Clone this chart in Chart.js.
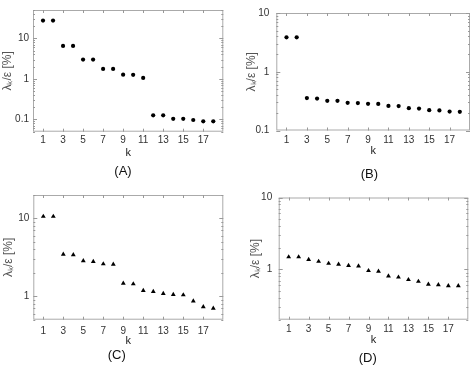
<!DOCTYPE html>
<html lang="en">
<head>
<meta charset="UTF-8">
<title>Eigenvalue spectra</title>
<script src="https://cdn.jsdelivr.net/npm/chart.js@4.4.0/dist/chart.umd.min.js"></script>
<style>
    * { margin: 0; padding: 0; box-sizing: border-box; }
    body { background: #fff; }
    .wrap { position: relative; width: 474px; height: 369px; }
    .panel { position: absolute; width: 237px; height: 185px; }
</style>
</head>
<body>
<div class="wrap">
    <div class="panel" style="left:0;top:0"><canvas id="chartA" width="237" height="185"></canvas></div>
    <div class="panel" style="left:237px;top:0"><canvas id="chartB" width="237" height="185"></canvas></div>
    <div class="panel" style="left:0;top:185px"><canvas id="chartC" width="237" height="185"></canvas></div>
    <div class="panel" style="left:237px;top:185px"><canvas id="chartD" width="237" height="185"></canvas></div>
</div>

<script>
const kValues = [1, 2, 3, 4, 5, 6, 7, 8, 9, 10, 11, 12, 13, 14, 15, 16, 17, 18];
const xTickLabels = [1, 3, 5, 7, 9, 11, 13, 15, 17];

const valuesA = [27.5, 27.5, 6.5, 6.5, 3.0, 3.0, 1.76, 1.76, 1.27, 1.26, 1.06, 0.127, 0.127, 0.104, 0.104, 0.097, 0.090, 0.090];
const valuesB = [3.86, 3.86, 0.356, 0.35, 0.32, 0.32, 0.296, 0.293, 0.285, 0.283, 0.262, 0.26, 0.24, 0.236, 0.222, 0.22, 0.21, 0.208];
const valuesC = [10.6, 10.6, 3.45, 3.4, 2.85, 2.79, 2.6, 2.58, 1.47, 1.44, 1.18, 1.15, 1.08, 1.05, 1.04, 0.87, 0.73, 0.70];
const valuesD = [1.49, 1.49, 1.37, 1.29, 1.21, 1.18, 1.13, 1.11, 0.96, 0.94, 0.81, 0.78, 0.72, 0.68, 0.62, 0.61, 0.59, 0.59];

const yTicksA = [0.1, 1, 10];
const yTicksB = [0.1, 1, 10];
const yTicksC = [1, 10];
const yTicksD = [1, 10];

const yRangeA = [0.05, 50];
const yRangeB = [0.1, 10];
const yRangeC = [0.5, 20];
const yRangeD = [0.2, 10];

const FONT = 'Liberation Sans, Arial, sans-serif';
const W = 237, H = 185;

// box + inward tick marks, like the original plots
const framePlugin = {
    id: 'frame',
    beforeDatasetsDraw(chart) {
        const { ctx, chartArea: a, scales } = chart;
        ctx.save();
        ctx.strokeStyle = '#aaa';
        ctx.lineWidth = 1;
        ctx.strokeRect(a.left + 0.5, a.top + 0.5, a.right - a.left - 1, a.bottom - a.top - 1);
        ctx.strokeStyle = '#999';
        ctx.beginPath();
        xTickLabels.forEach(v => {
            const px = Math.round(scales.x.getPixelForValue(v)) + 0.5;
            ctx.moveTo(px, a.bottom); ctx.lineTo(px, a.bottom - 3);
            ctx.moveTo(px, a.top); ctx.lineTo(px, a.top + 3);
        });
        const y = scales.y;
        for (let d = Math.floor(Math.log10(y.min)); d <= Math.ceil(Math.log10(y.max)); d++) {
            for (let m = 1; m <= 9; m++) {
                const v = m * Math.pow(10, d);
                if (v < y.min || v > y.max) continue;
                const py = Math.round(y.getPixelForValue(v)) + 0.5;
                const len = m === 1 ? 4 : 2;
                ctx.moveTo(a.left, py); ctx.lineTo(a.left + len, py);
                ctx.moveTo(a.right, py); ctx.lineTo(a.right - len, py);
            }
        }
        ctx.stroke();
        ctx.restore();
    },
    afterDraw(chart) {
        const o = chart.options.plugins.frame;
        const ctx = chart.ctx;
        ctx.save();
        ctx.fillStyle = '#111';
        ctx.font = '13px ' + FONT;
        ctx.textAlign = 'center';
        ctx.textBaseline = 'middle';
        ctx.fillText(o.label, o.labelX, o.labelY);
        ctx.restore();
    }
};

function buildPanel(id, values, yTicks, yRange, pointStyle, cfg) {
    const a = cfg.area;
    return new Chart(document.getElementById(id), {
        type: 'scatter',
        data: {
            datasets: [{
                data: kValues.map((k, i) => ({ x: k, y: values[i] })),
                pointStyle: pointStyle,
                pointRadius: pointStyle === 'triangle' ? 2.8 : 2.1,
                backgroundColor: '#000',
                borderColor: '#000',
                borderWidth: 0
            }]
        },
        options: {
            responsive: false,
            animation: false,
            devicePixelRatio: 1,
            layout: { padding: { left: 0, top: a.t, right: W - a.r, bottom: 0 } },
            plugins: {
                legend: { display: false },
                tooltip: { enabled: false },
                frame: { label: cfg.label, labelX: cfg.labelX, labelY: cfg.labelY }
            },
            scales: {
                x: {
                    type: 'linear',
                    min: 0,
                    max: 19,
                    afterBuildTicks: s => { s.ticks = xTickLabels.map(v => ({ value: v })); },
                    afterFit: s => { s.height = H - a.b; },
                    grid: { display: false, drawTicks: false },
                    border: { display: false },
                    ticks: { padding: cfg.xTickPad, color: '#333', font: { family: FONT, size: 10 } },
                    title: {
                        display: true, text: 'k', color: '#222',
                        font: { family: FONT, size: 11 },
                        padding: { top: 0, bottom: cfg.kPad }
                    }
                },
                y: {
                    type: 'logarithmic',
                    min: yRange[0],
                    max: yRange[1],
                    afterBuildTicks: s => { s.ticks = yTicks.map(v => ({ value: v })); },
                    afterFit: s => { s.width = a.l; },
                    grid: { display: false, drawTicks: false },
                    border: { display: false },
                    ticks: {
                        padding: cfg.yTickPad, color: '#333',
                        font: { family: FONT, size: 10 },
                        callback: v => String(v)
                    },
                    title: {
                        display: true, text: 'λₖ/ε [%]', color: '#555',
                        font: { family: FONT, size: 12 },
                        padding: { top: cfg.yTitlePad, bottom: 0 }
                    }
                }
            }
        },
        plugins: [framePlugin]
    });
}

buildPanel('chartA', valuesA, yTicksA, yRangeA, 'circle', {
    area: { l: 33, t: 4, r: 223.3, b: 131.7 },
    xTickPad: 3, kPad: 25.4, yTickPad: 4, yTitlePad: 0.3,
    label: '(A)', labelX: 123, labelY: 171.7
});
buildPanel('chartB', valuesB, yTicksB, yRangeB, 'circle', {
    area: { l: 39.3, t: 5, r: 234.7, b: 130.5 },
    xTickPad: 3.5, kPad: 27.4, yTickPad: 7, yTitlePad: 7.8,
    label: '(B)', labelX: 132.3, labelY: 174.3
});
buildPanel('chartC', valuesC, yTicksC, yRangeC, 'triangle', {
    area: { l: 33.3, t: 6.7, r: 223.3, b: 134.7 },
    xTickPad: 5.3, kPad: 22.7, yTickPad: 4, yTitlePad: 1.1,
    label: '(C)', labelX: 116.7, labelY: 170
});
buildPanel('chartD', valuesD, yTicksD, yRangeD, 'triangle', {
    area: { l: 41.7, t: 7.3, r: 231.3, b: 134.7 },
    xTickPad: 3.3, kPad: 23.4, yTickPad: 6.5, yTitlePad: 11.8,
    label: '(D)', labelX: 130.7, labelY: 173
});
</script>
</body>
</html>
